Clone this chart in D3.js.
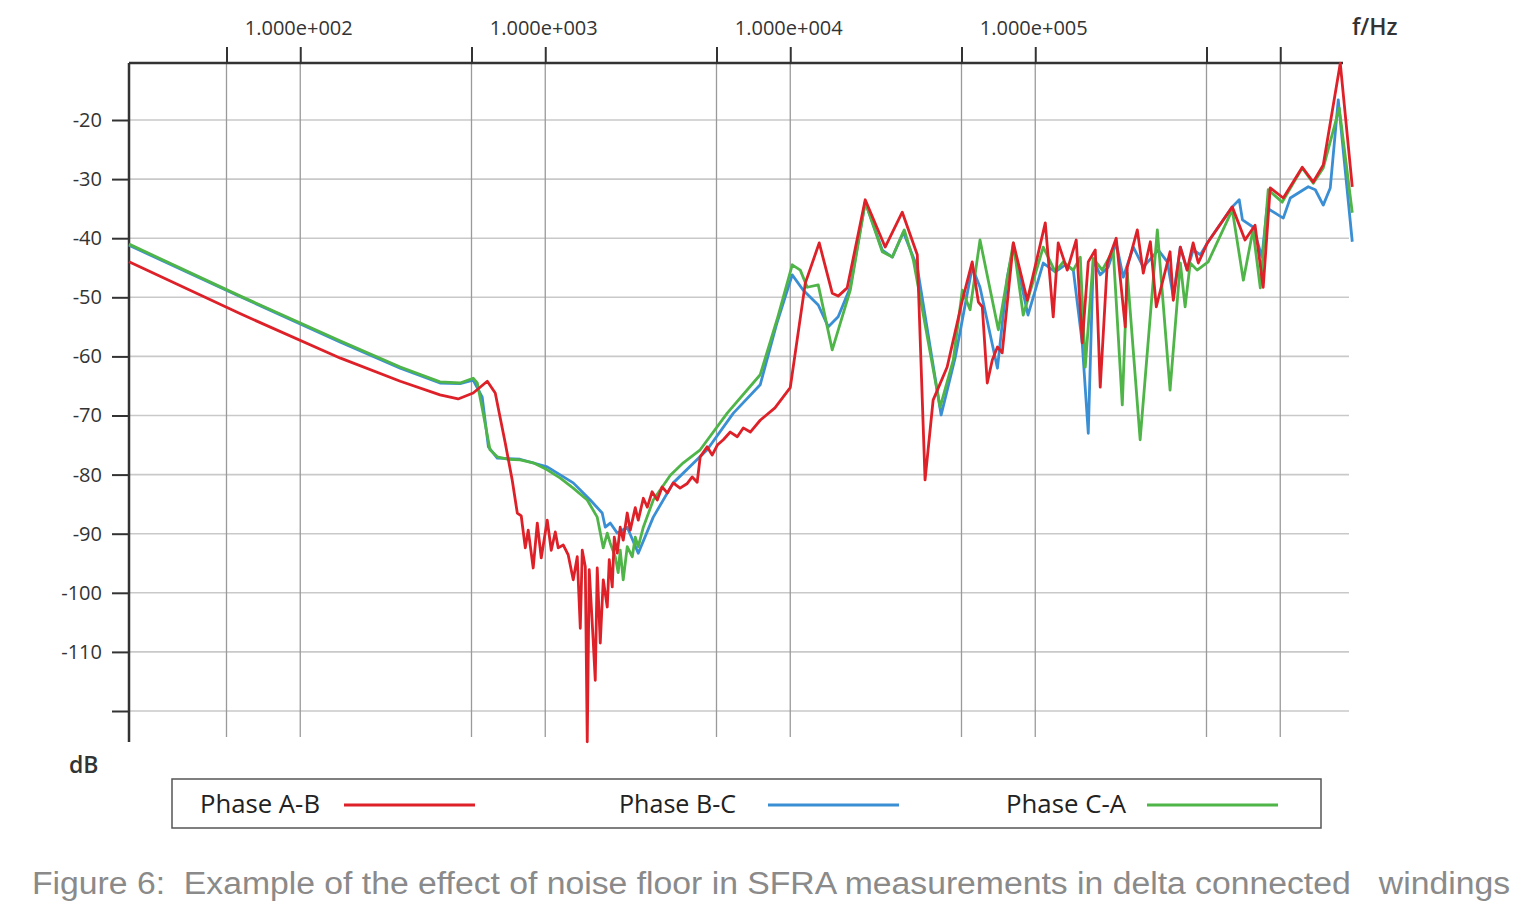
<!DOCTYPE html>
<html lang="en">
<head>
    <meta charset="UTF-8">
    <title>SFRA noise floor</title>
    <script src="https://d3js.org/d3.v7.min.js"></script>
    <style>
        body { margin: 0; background: #fff; }
        text { font-family: "Open Sans", sans-serif; }
    </style>
</head>
<body>
<script>
    const width = 1536;
    const height = 918;

    // frequency ticks (Hz) on the top axis, only decades get a label
    const freqTicks = [50, 100, 500, 1000, 5000, 10000, 50000, 100000, 500000, 1000000];
    const freqLabels = [100, 1000, 10000, 100000];
    const dbTicks = [-20, -30, -40, -50, -60, -70, -80, -90, -100, -110, -120];

    const seriesNames = ["Phase A-B", "Phase B-C", "Phase C-A"];
    const seriesColors = ["#de2028", "#3a8fd4", "#4fb548"];

    // [frequency Hz, magnitude dB]
    const phaseAB = [
        [20,-44.0],[57,-52.8],[146,-60.3],[256,-64.2],[372,-66.5],[441,-67.2],[508,-66.2],[580,-64.2],
        [625,-66.2],[687,-74.7],[733,-80.9],[769,-86.5],[798,-87.0],[829,-92.4],[852,-89.4],[893,-95.8],
        [928,-88.2],[963,-94.1],[1019,-87.7],[1058,-92.8],[1099,-89.7],[1130,-92.4],[1184,-91.9],[1241,-93.6],
        [1301,-97.8],[1351,-93.9],[1390,-106.0],[1416,-92.8],[1457,-95.6],[1484,-125.2],[1512,-96.1],[1569,-108.0],
        [1600,-114.8],[1630,-95.8],[1677,-108.5],[1725,-97.8],[1791,-102.4],[1825,-94.4],[1877,-99.0],[1913,-90.6],
        [1968,-93.3],[2023,-88.9],[2081,-91.1],[2161,-86.5],[2223,-89.4],[2330,-85.6],[2397,-87.7],[2514,-84.0],
        [2610,-85.5],[2730,-82.9],[2866,-84.3],[3000,-82.1],[3150,-83.1],[3330,-81.4],[3550,-82.3],[3800,-81.5],
        [3980,-80.4],[4170,-81.3],[4290,-77.0],[4580,-75.3],[4800,-76.7],[5040,-75.0],[5330,-74.1],[5690,-72.8],
        [6080,-73.6],[6430,-72.1],[6870,-72.8],[7540,-70.8],[8660,-68.7],[10000,-65.3],[11520,-47.6],[13130,-40.8],
        [14840,-49.3],[15690,-49.8],[17080,-48.4],[20230,-33.5],[24400,-41.5],[28660,-35.6],[33000,-42.8],[35500,-80.9],
        [38300,-67.4],[43700,-61.8],[50400,-50.5],[55300,-44.0],[58600,-50.8],[60800,-51.6],[63700,-64.5],[66800,-60.6],
        [70100,-58.4],[73300,-59.4],[81400,-40.8],[92800,-50.5],[109900,-37.4],[118400,-53.3],[124100,-40.8],[135100,-45.4],
        [147000,-40.3],[155500,-57.7],[164600,-44.0],[175800,-42.0],[184200,-65.2],[196800,-44.2],[214000,-40.0],[233000,-55.0],
        [237500,-44.9],[261000,-38.6],[276000,-45.9],[295000,-40.6],[312000,-51.6],[355000,-42.3],[366000,-50.5],[391000,-41.5],
        [417000,-45.4],[441000,-40.8],[463000,-44.2],[504000,-40.8],[637000,-34.7],[718000,-40.3],[789000,-37.8],[852000,-48.3],
        [910000,-31.5],[1029000,-33.2],[1230000,-28.0],[1364000,-30.5],[1498000,-27.6],[1758000,-10.4],[1968000,-31.3]
    ];

    const phaseBC = [
        [20,-41.2],[57,-49.9],[146,-57.6],[256,-62.0],[372,-64.5],[449,-64.6],[508,-64.0],[553,-66.9],
        [586,-75.3],[637,-77.2],[789,-77.4],[1019,-78.7],[1301,-81.4],[1527,-84.3],[1708,-86.5],[1758,-88.9],
        [1842,-88.2],[1968,-89.9],[2161,-88.9],[2397,-93.3],[2760,-87.2],[3330,-81.4],[4580,-75.8],[5860,-69.6],
        [7540,-64.8],[8830,-54.3],[10190,-46.2],[11300,-48.8],[13010,-51.3],[14300,-55.0],[15690,-53.3],[17580,-48.3],
        [20230,-33.9],[23750,-42.0],[26100,-43.2],[28950,-39.0],[33000,-44.9],[41300,-69.9],[47200,-60.1],[55300,-44.9],
        [59500,-48.3],[70100,-62.0],[76900,-46.6],[81400,-41.5],[93400,-53.0],[107800,-44.2],[120700,-45.7],[132600,-44.5],
        [143000,-45.4],[155500,-57.7],[164600,-73.0],[172500,-43.7],[184200,-46.2],[198500,-44.9],[214000,-40.8],[228600,-46.6],
        [251400,-41.5],[276000,-44.9],[318000,-42.0],[346000,-44.0],[366000,-49.9],[391000,-41.5],[417000,-45.4],[441000,-42.0],
        [472000,-42.8],[508000,-40.6],[637000,-34.7],[680000,-33.5],[701000,-36.9],[774000,-38.1],[842000,-43.2],[883000,-34.9],
        [1029000,-36.6],[1099000,-33.2],[1301000,-31.3],[1390000,-31.8],[1498000,-34.4],[1600000,-31.5],[1725000,-16.6],[1968000,-40.6]
    ];

    const phaseCA = [
        [20,-41.0],[57,-49.8],[146,-57.4],[256,-61.8],[372,-64.3],[449,-64.5],[508,-63.7],[528,-64.5],
        [558,-69.6],[595,-75.8],[637,-77.0],[701,-77.4],[789,-77.5],[893,-78.0],[1019,-79.2],[1152,-80.6],
        [1301,-82.3],[1484,-84.3],[1630,-87.2],[1725,-92.4],[1791,-89.9],[1842,-91.6],[1931,-93.9],[1985,-96.6],
        [2023,-92.8],[2081,-97.8],[2161,-92.2],[2266,-93.9],[2330,-90.6],[2397,-92.2],[2514,-88.9],[2760,-84.3],
        [3240,-80.1],[3660,-78.0],[4290,-75.8],[5530,-69.6],[7540,-63.1],[8830,-53.8],[10190,-44.5],[10990,-45.4],
        [11730,-48.3],[13010,-47.9],[14840,-58.9],[17580,-48.8],[20230,-33.9],[23750,-42.3],[26100,-43.2],[29200,-38.6],
        [31800,-43.7],[40900,-68.6],[46300,-60.6],[50400,-48.8],[54200,-52.1],[59500,-40.3],[70700,-55.5],[81400,-40.8],
        [89300,-53.0],[107800,-41.5],[120700,-45.7],[130100,-44.0],[143000,-45.4],[152700,-43.2],[160000,-61.8],[172500,-43.4],
        [187700,-45.4],[208100,-42.0],[226600,-68.2],[237500,-45.9],[268000,-74.1],[315000,-38.6],[355000,-65.7],[391000,-44.2],
        [409000,-51.6],[429000,-44.2],[458000,-45.4],[508000,-44.0],[637000,-35.2],[707000,-47.1],[774000,-38.6],[829000,-48.4],
        [893000,-31.8],[1019000,-33.9],[1230000,-28.1],[1364000,-30.7],[1498000,-28.1],[1741000,-18.0],[1968000,-35.7]
    ];

    const series = [phaseAB, phaseBC, phaseCA];

    // layout
    const yTopPx = 63, yAxisBottomPx = 742, vGridBottomPx = 737;
    const gridRightPx = 1349, topAxisRightPx = 1343;

    const x = d3.scaleLog().domain([20, 2e6]).range([129, 1354]);
    const y = d3.scaleLinear().domain([-20, -120]).range([120, 711]);

    const svg = d3.select("body").append("svg")
            .attr("width", width).attr("height", height);

    // grid
    svg.append("g").attr("class", "hgrid")
            .selectAll("line").data(dbTicks).enter().append("line")
            .attr("x1", x(20)).attr("x2", gridRightPx)
            .attr("y1", d => y(d)).attr("y2", d => y(d))
            .style("stroke", "#c9c9c9").style("stroke-width", 1.6);

    svg.append("g").attr("class", "vgrid")
            .selectAll("line").data(freqTicks).enter().append("line")
            .attr("x1", d => x(d)).attr("x2", d => x(d))
            .attr("y1", yTopPx).attr("y2", vGridBottomPx)
            .style("stroke", "#9a9a9a").style("stroke-width", 1.3);

    // axes
    const expFormat = f => {
        const s = d3.format(".3e")(f);
        const [m, e] = s.split("e");
        return m + "e" + e[0] + e.slice(1).padStart(3, "0");
    };

    const topAxis = d3.axisTop(x)
            .tickValues(freqTicks)
            .tickSize(16)
            .tickPadding(12)
            .tickFormat(d => freqLabels.includes(d) ? expFormat(d) : "");

    const gTop = svg.append("g").attr("transform", `translate(0,${yTopPx})`).call(topAxis);
    gTop.select(".domain").remove();
    gTop.selectAll(".tick line").style("stroke", "#333").style("stroke-width", 2);
    gTop.selectAll(".tick text").attr("dx", -2)
            .style("font-family", "Open Sans").style("font-size", "20px").style("fill", "#333");

    const leftAxis = d3.axisLeft(y)
            .tickValues(dbTicks)
            .tickSize(17)
            .tickPadding(10)
            .tickFormat(d => d === -120 ? "" : String(d));

    const gLeft = svg.append("g").attr("transform", `translate(${x(20)},0)`).call(leftAxis);
    gLeft.select(".domain").remove();
    gLeft.selectAll(".tick line").style("stroke", "#333").style("stroke-width", 2);
    gLeft.selectAll(".tick text").style("font-family", "Open Sans").style("font-size", "20px").style("fill", "#333");

    svg.append("line")
            .attr("x1", x(20)).attr("x2", topAxisRightPx)
            .attr("y1", yTopPx).attr("y2", yTopPx)
            .style("stroke", "#333").style("stroke-width", 2.5);
    svg.append("line")
            .attr("x1", x(20)).attr("x2", x(20))
            .attr("y1", yTopPx).attr("y2", yAxisBottomPx)
            .style("stroke", "#333").style("stroke-width", 2.5);

    svg.append("text").attr("x", 1352).attr("y", 35)
            .style("font-size", "23px").style("font-weight", 600).style("fill", "#333")
            .text("f/Hz");
    svg.append("text").attr("x", 69).attr("y", 773)
            .style("font-size", "23px").style("font-weight", 600).style("fill", "#333")
            .text("dB");

    // curves
    const line = d3.line()
            .x(d => x(d[0]))
            .y(d => y(d[1]));

    const drawOrder = [1, 2, 0];
    svg.append("g").attr("class", "curves")
            .selectAll("path").data(drawOrder).enter().append("path")
            .attr("d", i => line(series[i]))
            .style("fill", "none")
            .style("stroke", i => seriesColors[i])
            .style("stroke-width", 2.8)
            .style("stroke-linejoin", "round");

    // legend
    const legend = svg.append("g").attr("class", "legend");
    legend.append("rect")
            .attr("x", 172).attr("y", 779).attr("width", 1149).attr("height", 49)
            .style("fill", "none").style("stroke", "#555").style("stroke-width", 1.5);

    const legendX = [200, 619, 1006];
    const legendW = [120, 117, 120];
    const legendLineX = [344, 768, 1147];
    const items = legend.selectAll("g.item").data(seriesNames).enter()
            .append("g").attr("class", "item");
    items.append("text")
            .attr("x", (d, i) => legendX[i]).attr("y", 813)
            .attr("textLength", (d, i) => legendW[i])
            .attr("lengthAdjust", "spacingAndGlyphs")
            .style("font-size", "25px").style("fill", "#222")
            .text(d => d);
    items.append("line")
            .attr("x1", (d, i) => legendLineX[i]).attr("x2", (d, i) => legendLineX[i] + 131)
            .attr("y1", 805).attr("y2", 805)
            .style("stroke", (d, i) => seriesColors[i]).style("stroke-width", 3);

    // caption
    svg.append("text")
            .attr("x", 32).attr("y", 894)
            .attr("textLength", 1478).attr("lengthAdjust", "spacingAndGlyphs")
            .style("font-family", "Liberation Sans, Arial, sans-serif")
            .style("font-size", "31px").style("fill", "#8a8a8a")
            .style("white-space", "pre")
            .text("Figure 6:  Example of the effect of noise floor in SFRA measurements in delta connected   windings");
</script>
</body>
</html>
